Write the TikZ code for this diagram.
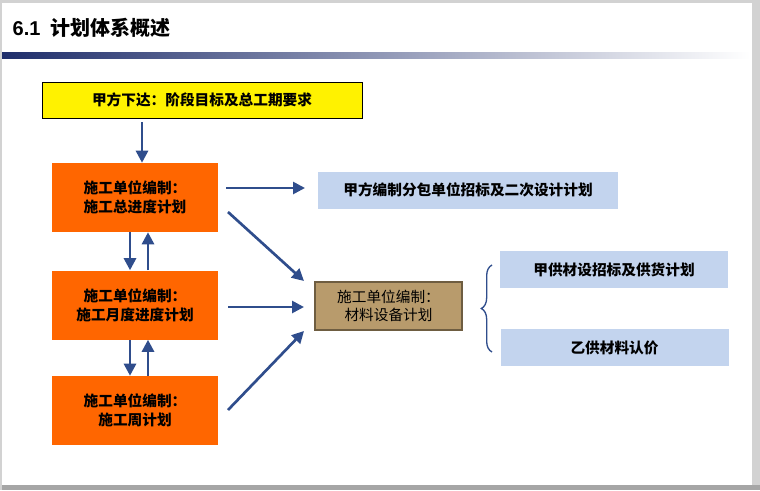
\documentclass[tikz,border=0pt]{standalone}
\usepackage{fontspec}
\newfontfamily\cjk{Noto Sans CJK SC}
\setmainfont{Liberation Sans}
\usetikzlibrary{arrows.meta,decorations.pathreplacing}
\definecolor{arr}{HTML}{2F4D8C}
\definecolor{org}{HTML}{FF6600}
\definecolor{lblue}{HTML}{C3D4EE}
\definecolor{brn}{HTML}{B89B6C}
\definecolor{navy}{HTML}{1F2E6B}
\tikzset{
  conn/.style={draw=arr,line width=2pt,-{Triangle[length=9pt,width=9pt]}},
  obox/.style={fill=org,draw=none,font=\cjk\bfseries\fontsize{11pt}{14pt}\selectfont,align=center,minimum width=166*0.75pt,minimum height=69*0.75pt},
  bbox/.style={fill=lblue,draw=none,font=\cjk\bfseries\fontsize{11pt}{14pt}\selectfont,align=center,minimum height=37*0.75pt},
}
\begin{document}
\begin{tikzpicture}[x=0.75pt,y=-0.75pt]
\useasboundingbox (0,0) rectangle (760,490);
\fill[gray!35] (0,0) rectangle (760,490);
\fill[white] (2,3) rectangle (752,485);
\fill[gray!70] (2,485) rectangle (760,490);
\shade[left color=navy,right color=white] (2,52) rectangle (750,58);
\node[anchor=west,font=\bfseries\fontsize{15pt}{18pt}\selectfont] (title) at (8,28) {6.1\enspace{\cjk 计划体系概述}};
\node[fill=yellow,draw=black,line width=0.6pt,minimum width=320*0.75pt,minimum height=36*0.75pt,font=\cjk\bfseries\fontsize{11pt}{14pt}\selectfont] (top) at (202,100) {甲方下达：阶段目标及总工期要求};
\node[obox] (o1) at (135,197.5) {施工单位编制：\\施工总进度计划};
\node[obox] (o2) at (135,305) {施工单位编制：\\施工月度进度计划};
\node[obox] (o3) at (135,410.5) {施工单位编制：\\施工周计划};
\node[bbox,minimum width=300*0.75pt] (b1) at (468,190) {甲方编制分包单位招标及二次设计计划};
\node[fill=brn,draw=brn!60!black,line width=0.8pt,minimum width=147*0.75pt,minimum height=48*0.75pt,align=center,font=\cjk\fontsize{11pt}{14pt}\selectfont] (m) at (388.5,306) {施工单位编制：\\材料设备计划};
\node[bbox,minimum width=228*0.75pt] (b2) at (614,269.5) {甲供材设招标及供货计划};
\node[bbox,minimum width=228*0.75pt] (b3) at (614.5,347.5) {乙供材料认价};
\draw[conn] (142,122) -- (o1.north -| 142,0);
\draw[conn] (o1.south -| 130,0) -- (o2.north -| 130,0);
\draw[conn] (o2.north -| 148,0) -- (o1.south -| 148,0);
\draw[conn] (o2.south -| 130,0) -- (o3.north -| 130,0);
\draw[conn] (o3.north -| 148,0) -- (o2.south -| 148,0);
\draw[conn] (226,188) -- (305,188);
\draw[conn] (228,212) -- (304,281);
\draw[conn] (228,307) -- (304,307);
\draw[conn] (228,410) -- (304,331);
\draw[draw=arr,line width=1pt,decorate,decoration={brace,amplitude=8pt}] (492,352) -- (492,265);
\end{tikzpicture}
\end{document}
